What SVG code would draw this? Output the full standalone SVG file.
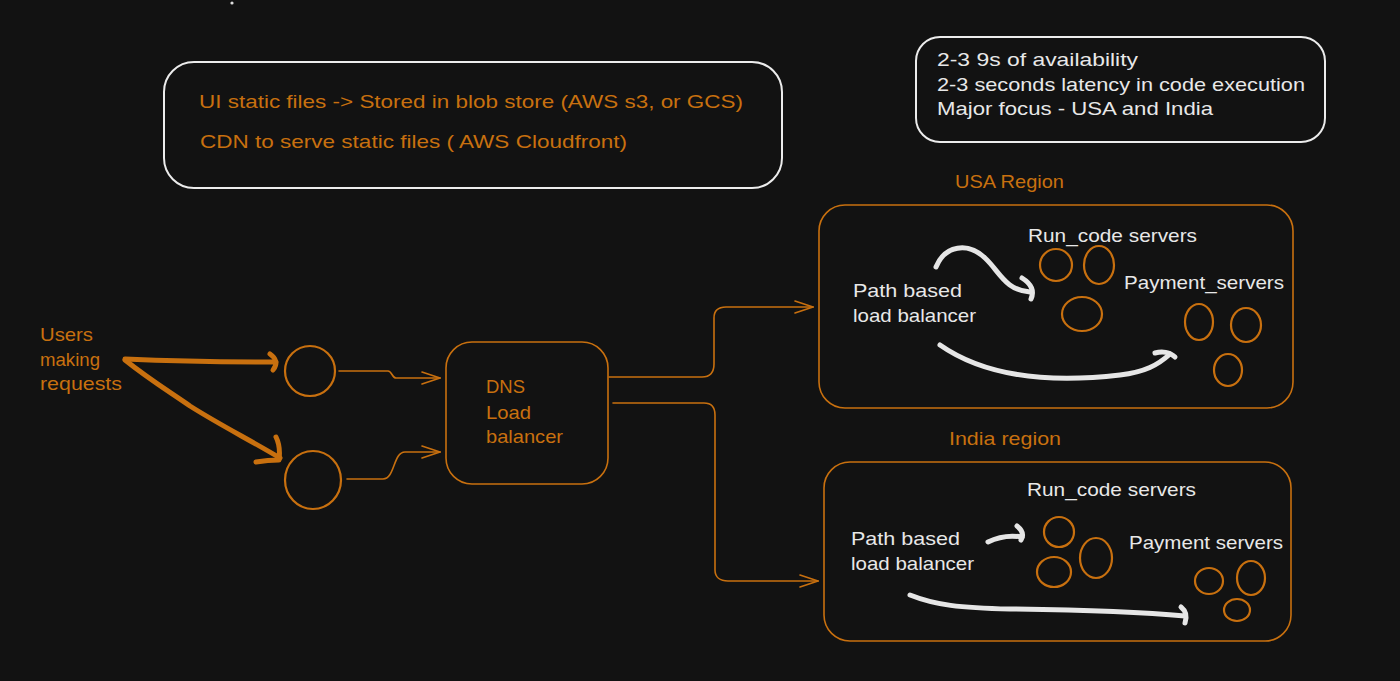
<svg xmlns="http://www.w3.org/2000/svg" width="1400" height="681" viewBox="0 0 1400 681">
<defs>
<style>
text{font-family:"Liberation Sans","Noto Sans",sans-serif;font-size:19px}
.o{fill:#c8700f}
.w{fill:#e8e8e8}
.bw{fill:none;stroke:#ececec;stroke-width:2}
.bo{fill:none;stroke:#c8700f;stroke-width:1.6}
.co{fill:none;stroke:#c8700f;stroke-width:2.2}
.ln{fill:none;stroke:#c8700f;stroke-width:1.6;stroke-linecap:round;stroke-linejoin:round}
.th{fill:none;stroke:#c8700f;stroke-width:5;stroke-linecap:round;stroke-linejoin:round}
.tw{fill:none;stroke:#e6e6e6;stroke-width:5;stroke-linecap:round;stroke-linejoin:round}
</style>
<marker id="ah" markerWidth="20" markerHeight="14" refX="19" refY="7" orient="auto" markerUnits="userSpaceOnUse">
<path d="M1,1 L19,7 L1,13" fill="none" stroke="#c8700f" stroke-width="1.6" stroke-linecap="round"/>
</marker>
</defs>
<rect width="1400" height="681" fill="#121212"/>
<circle cx="232" cy="3" r="1.6" fill="#ddd"/>

<g id="static-box">
<rect class="bw" x="164" y="62" width="618" height="126" rx="30"/>
<text class="o" x="199" y="108" textLength="544" lengthAdjust="spacingAndGlyphs">UI static files -&gt; Stored in blob store (AWS s3, or GCS)</text>
<text class="o" x="200" y="148" textLength="427" lengthAdjust="spacingAndGlyphs">CDN to serve static files ( AWS Cloudfront)</text>
</g>

<g id="requirements">
<rect class="bw" x="916" y="37" width="409" height="105" rx="24"/>
<text class="w" x="937" y="66" textLength="201" lengthAdjust="spacingAndGlyphs">2-3 9s of availability</text>
<text class="w" x="937" y="91" textLength="368" lengthAdjust="spacingAndGlyphs">2-3 seconds latency in code execution</text>
<text class="w" x="937" y="115" textLength="276" lengthAdjust="spacingAndGlyphs">Major focus - USA and India</text>
</g>

<g id="users">
<text class="o" x="40" y="341" textLength="53" lengthAdjust="spacingAndGlyphs">Users</text>
<text class="o" x="40" y="366" textLength="60" lengthAdjust="spacingAndGlyphs">making</text>
<text class="o" x="40" y="390" textLength="82" lengthAdjust="spacingAndGlyphs">requests</text>
</g>

<g id="client1"><ellipse class="co" cx="310" cy="371" rx="25" ry="25"/></g>
<g id="client2"><ellipse class="co" cx="313" cy="480" rx="28" ry="29"/></g>

<g id="dns-lb">
<rect class="bo" x="446" y="342" width="162" height="142" rx="26"/>
<text class="o" x="486" y="393" textLength="39" lengthAdjust="spacingAndGlyphs">DNS</text>
<text class="o" x="486" y="419" textLength="45" lengthAdjust="spacingAndGlyphs">Load</text>
<text class="o" x="486" y="443" textLength="77" lengthAdjust="spacingAndGlyphs">balancer</text>
</g>

<g id="usa-region">
<text class="o" x="955" y="188" textLength="109" lengthAdjust="spacingAndGlyphs">USA Region</text>
<rect class="bo" x="819" y="205" width="474" height="203" rx="26"/>
<text class="w" x="1028" y="242" textLength="169" lengthAdjust="spacingAndGlyphs">Run_code servers</text>
<text class="w" x="1124" y="289" textLength="160" lengthAdjust="spacingAndGlyphs">Payment_servers</text>
<text class="w" x="853" y="297" textLength="109" lengthAdjust="spacingAndGlyphs">Path based</text>
<text class="w" x="853" y="322" textLength="123" lengthAdjust="spacingAndGlyphs">load balancer</text>
<ellipse class="co" cx="1056" cy="265" rx="16" ry="16"/>
<ellipse class="co" cx="1099" cy="265" rx="15" ry="19"/>
<ellipse class="co" cx="1082" cy="314" rx="20" ry="17"/>
<ellipse class="co" cx="1199" cy="322" rx="14" ry="18"/>
<ellipse class="co" cx="1246" cy="325" rx="15" ry="17"/>
<ellipse class="co" cx="1228" cy="370" rx="14" ry="16"/>
<path class="tw" d="M936,267 C945,245 968,242 985,258 C1000,272 1005,290 1030,292"/>
<path class="tw" d="M1022,278 C1030,283 1035,290 1031,299"/>
<path class="tw" d="M940,345 C990,380 1060,382 1120,375 C1145,372 1158,365 1170,354"/>
<path class="tw" d="M1155,353 C1162,351 1170,352 1175,357"/>
</g>

<g id="india-region">
<text class="o" x="949" y="445" textLength="112" lengthAdjust="spacingAndGlyphs">India region</text>
<rect class="bo" x="824" y="462" width="467" height="179" rx="26"/>
<text class="w" x="1027" y="496" textLength="169" lengthAdjust="spacingAndGlyphs">Run_code servers</text>
<text class="w" x="1129" y="549" textLength="154" lengthAdjust="spacingAndGlyphs">Payment servers</text>
<text class="w" x="851" y="545" textLength="109" lengthAdjust="spacingAndGlyphs">Path based</text>
<text class="w" x="851" y="570" textLength="123" lengthAdjust="spacingAndGlyphs">load balancer</text>
<ellipse class="co" cx="1059" cy="532" rx="15" ry="15"/>
<ellipse class="co" cx="1096" cy="558" rx="16" ry="20"/>
<ellipse class="co" cx="1054" cy="572" rx="17" ry="15"/>
<ellipse class="co" cx="1209" cy="581" rx="14" ry="13"/>
<ellipse class="co" cx="1251" cy="578" rx="14" ry="17"/>
<ellipse class="co" cx="1237" cy="610" rx="13" ry="11"/>
<path class="tw" d="M988,542 C998,537 1010,535 1022,537"/>
<path class="tw" d="M1017,526 C1022,530 1024,535 1021,540"/>
<path class="tw" d="M910,595 C935,605 960,608 1010,609 C1080,610 1140,612 1185,616"/>
<path class="tw" d="M1181,607 C1186,611 1187,617 1185,623"/>
</g>

<g id="connectors">
<path class="th" d="M125,359 C170,361 220,362 276,362"/>
<path class="th" d="M270,354 C276,358 278,364 273,370"/>
<path class="th" d="M125,360 C150,380 170,392 190,406 C220,425 250,440 280,458"/>
<path class="th" d="M276,437 C280,445 280,452 279,460 C270,460 262,461 256,462"/>
<path class="ln" marker-end="url(#ah)" d="M339,371 L388,371 C392,371 392,378 396,378 L440,378"/>
<path class="ln" marker-end="url(#ah)" d="M347,479 L383,479 C395,479 393,452 405,452 L440,452"/>
<path class="ln" marker-end="url(#ah)" d="M609,377 L702,377 C710,377 714,372 714,364 L714,318 C714,311 718,307 726,307 L813,307"/>
<path class="ln" marker-end="url(#ah)" d="M613,403 L704,403 C711,403 715,407 715,415 L715,570 C715,577 720,581 728,581 L818,581"/>
</g>
</svg>
